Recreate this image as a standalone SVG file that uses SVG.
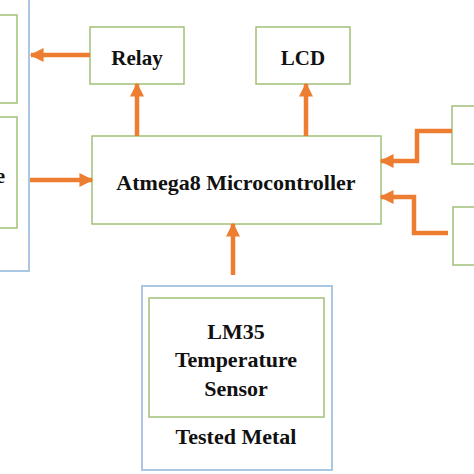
<svg xmlns="http://www.w3.org/2000/svg" width="474" height="474" viewBox="0 0 474 474">
<style>
.g{fill:#fff;stroke:#a3c07a;stroke-width:1.5}
.b{fill:#fff;stroke:#a9c6e3;stroke-width:2}
.t{font-weight:bold;font-size:21px;fill:#111;text-anchor:middle}
.c{fill:none;stroke:#ed7d31;stroke-width:4.5}
</style>
<defs>
<marker id="ah" viewBox="0 0 10 10" refX="9" refY="5" markerWidth="3.3" markerHeight="3.1" orient="auto" markerUnits="strokeWidth">
<path d="M0,0 L10,5 L0,10 Z" fill="#ed7d31"/>
</marker>
</defs>
<rect width="474" height="474" fill="#fff"/>
<g id="left-container">
<rect class="b" x="-10" y="-10" width="39" height="281"/>
</g>
<g id="left-upper">
<rect class="g" x="-10" y="15" width="27" height="88"/>
</g>
<g id="left-lower" font-family="Liberation Serif, serif">
<rect class="g" x="-10" y="117" width="27" height="111"/>
<text class="t" x="5" y="183" style="text-anchor:end">e</text>
</g>
<g id="relay" font-family="Liberation Serif, serif">
<rect class="g" x="90" y="27" width="94" height="57"/>
<text class="t" x="137" y="65">Relay</text>
</g>
<g id="lcd" font-family="Liberation Serif, serif">
<rect class="g" x="256" y="27" width="94" height="57"/>
<text class="t" x="303" y="65">LCD</text>
</g>
<g id="micro" font-family="Liberation Serif, serif">
<rect class="g" x="92" y="136" width="289" height="88"/>
<text class="t" x="236" y="190" style="font-size:22px">Atmega8 Microcontroller</text>
</g>
<g id="right-upper">
<rect class="g" x="452" y="106" width="40" height="58"/>
</g>
<g id="right-lower">
<rect class="g" x="453" y="207" width="40" height="58"/>
</g>
<g id="tested-metal" font-family="Liberation Serif, serif">
<rect class="b" x="142" y="286" width="190" height="184"/>
<text class="t" x="236" y="444" style="font-size:22px">Tested Metal</text>
</g>
<g id="lm35" font-family="Liberation Serif, serif">
<rect class="g" x="149" y="298" width="175" height="119"/>
<text class="t" x="236" y="339" style="font-size:22px">LM35</text>
<text class="t" x="236" y="367" style="font-size:22px">Temperature</text>
<text class="t" x="236" y="396" style="font-size:22px">Sensor</text>
</g>
<g id="connectors">
<path class="c" d="M90,55 L31,55" marker-end="url(#ah)"/>
<path class="c" d="M137,136 L137,84" marker-end="url(#ah)"/>
<path class="c" d="M306,136 L306,84" marker-end="url(#ah)"/>
<path class="c" d="M30,180 L92,180" marker-end="url(#ah)"/>
<path class="c" d="M233,275 L233,224" marker-end="url(#ah)"/>
<path class="c" d="M452,131 L417,131 L417,161 L381,161" marker-end="url(#ah)"/>
<path class="c" d="M448,233 L414,233 L414,197 L381,197" marker-end="url(#ah)"/>
</g>
</svg>
